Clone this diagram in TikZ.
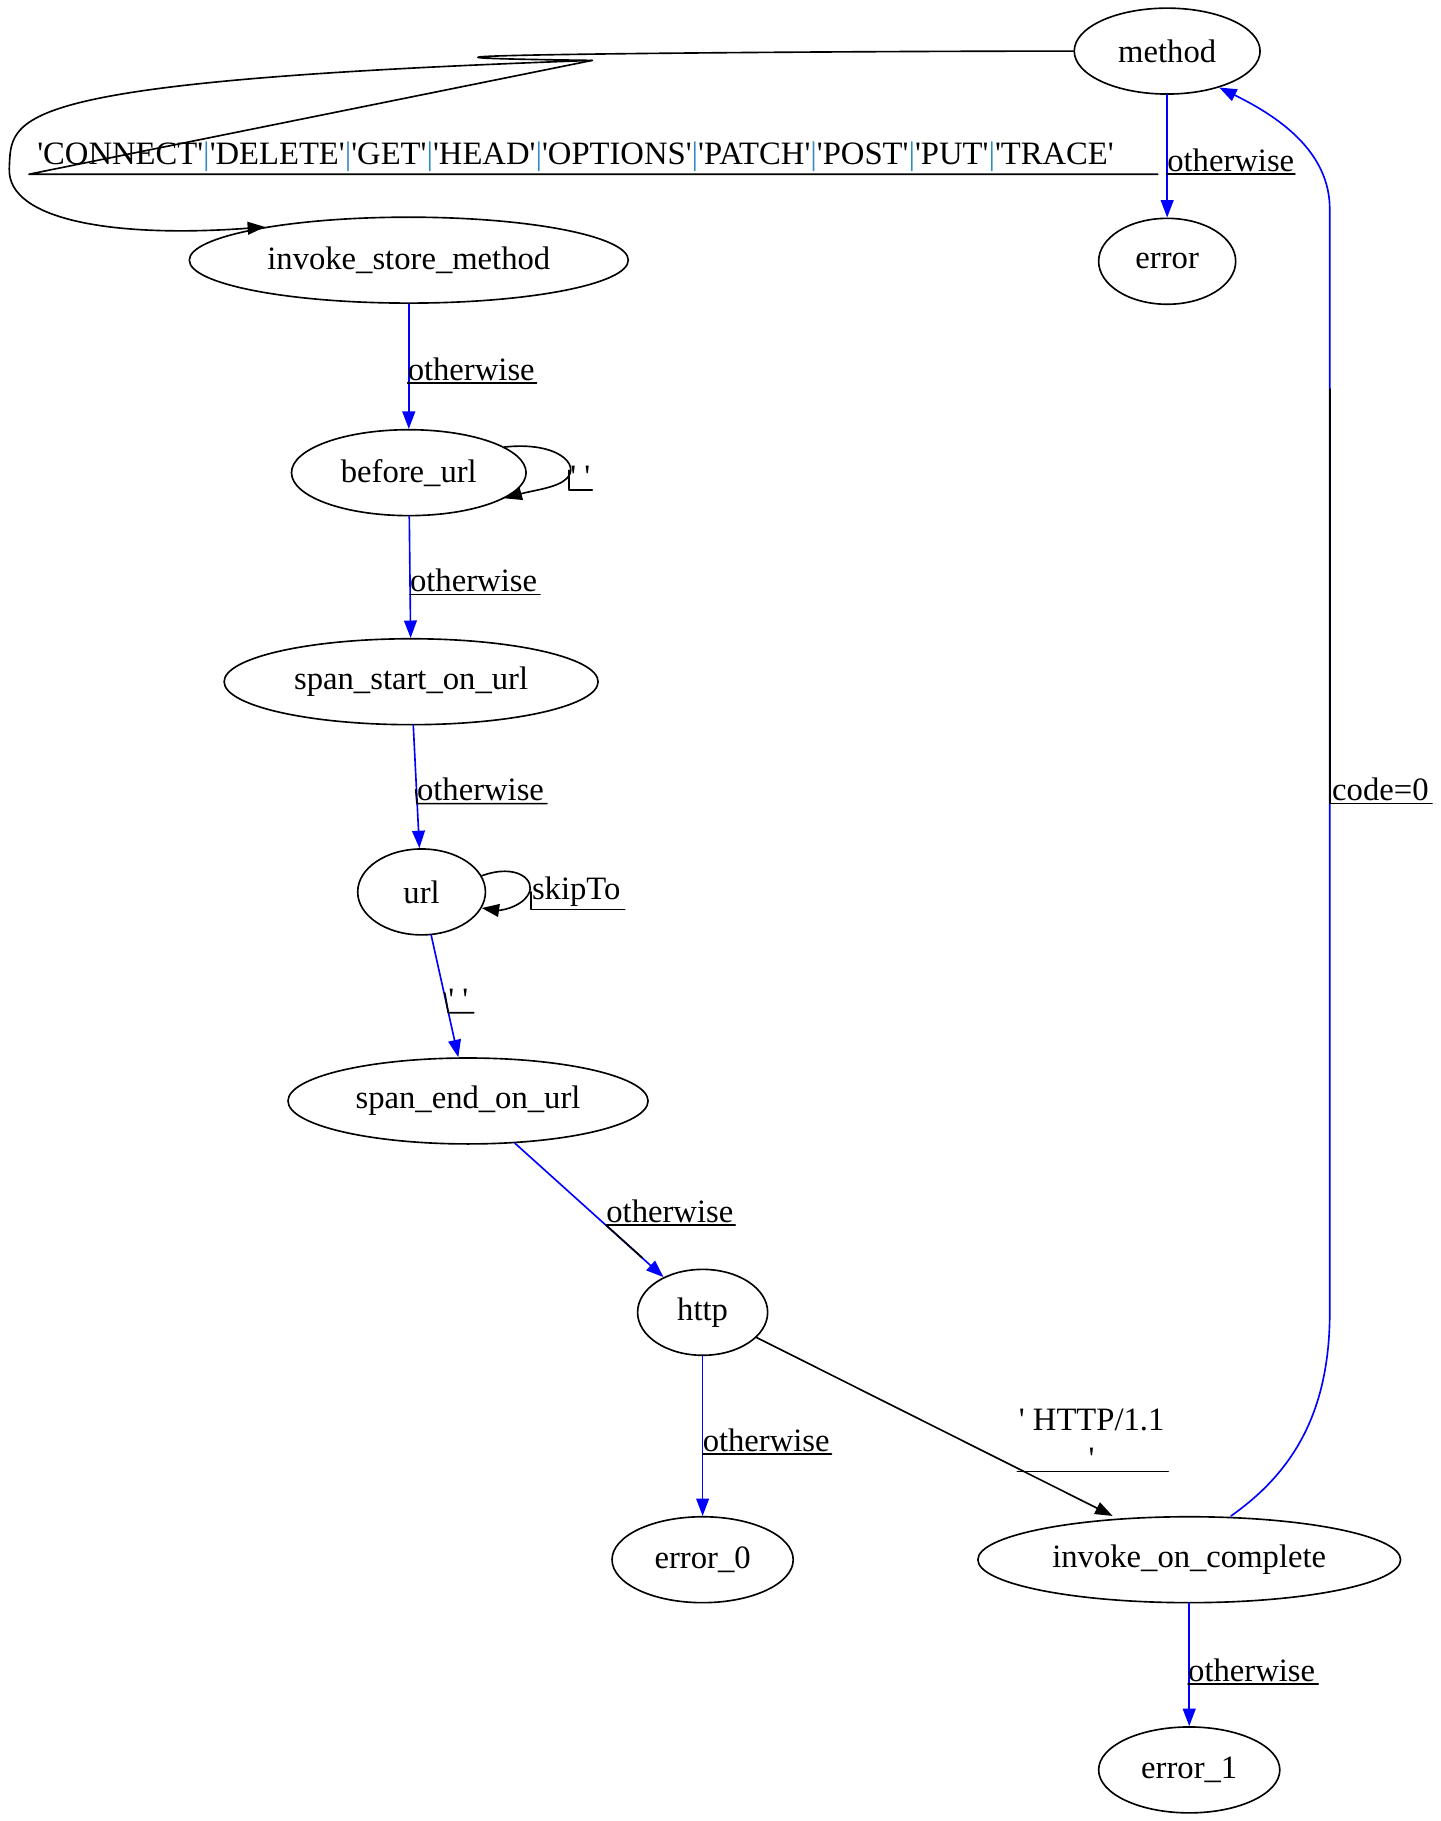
\documentclass[tikz,border=0pt]{standalone}
\usepackage{fontspec}
\setmainfont{Liberation Serif}
\usetikzlibrary{shapes.geometric,arrows.meta}
\definecolor{sepcol}{rgb}{0.2,0.55,0.75}
\newcommand{\qq}{\textquotesingle}
\newcommand{\sep}{\textcolor{sepcol}{|}}

\begin{document}
\begin{tikzpicture}[x=0.02cm,y=-0.02cm,line cap=round,line join=round,>={Triangle[length=0.3cm,width=0.22cm]},
  state/.style={draw,ellipse,line width=0.8pt,inner sep=0pt,minimum height=1.48cm,font=\fontsize{16}{19}\selectfont},
  wd/.style={minimum width=#1*0.02cm},
  lbl/.style={font=\fontsize{16}{19}\selectfont,inner sep=1pt},
  tr/.style={->,blue,line width=0.8pt},
  trb/.style={->,black,line width=0.8pt},
  ul/.style={black,line width=0.8pt}]
\useasboundingbox (0,0) rectangle (1240,1568);

\node[state,wd=160] (method) at (1005,44) {method};
\node[state,wd=118] (error) at (1005,225) {error};
\node[state,wd=378] (invokestore) at (352,224) {invoke\_store\_method};
\node[state,wd=202] (beforeurl) at (352,407) {before\_url};
\node[state,wd=322] (spanstart) at (354,587) {span\_start\_on\_url};
\node[state,wd=110] (url) at (363,768) {url};
\node[state,wd=310] (spanend) at (403,948) {span\_end\_on\_url};
\node[state,wd=112] (http) at (605,1130) {http};
\node[state,wd=156] (errorzero) at (605,1343) {error\_0};
\node[state,wd=364] (invokecomplete) at (1024,1343) {invoke\_on\_complete};
\node[state,wd=156] (errorone) at (1024,1524) {error\_1};

% method transitions
\coordinate (mlab) at (510,52);
\draw[trb] (method.west) .. controls (700,44) and (200,48) .. (mlab) .. controls (0,70) and (10,100) .. (8,145) .. controls (6,190) and (100,205) .. (invokestore.167);
\node[lbl,anchor=south west] (mtext) at (30,150) {\qq CONNECT\qq\sep\qq DELETE\qq\sep\qq GET\qq\sep\qq HEAD\qq\sep\qq OPTIONS\qq\sep\qq PATCH\qq\sep\qq POST\qq\sep\qq PUT\qq\sep\qq TRACE\qq};
\draw[ul] (mlab) -- (25,150) -- (997,150);
\draw[tr] (method) -- (error);
\node[lbl,anchor=south west] (otherm) at (1003,150) {otherwise};
\draw[ul] (1005,150) -- (1115,150);

% chain
\draw[tr] (invokestore) -- (beforeurl);
\node[lbl,anchor=south west] at (349,330) {otherwise};
\draw[ul] (351,330) -- (462,330);

\draw[trb] (beforeurl.15) .. controls (480,380) and (500,400) .. (488,412) .. controls (480,420) and (460,422) .. (beforeurl.-15);
\node[lbl,anchor=south west] at (489,422) {\qq\ \qq};
\draw[ul] (490,405) -- (490,422) -- (510,422);

\draw[tr] (beforeurl) -- (spanstart);
\node[lbl,anchor=south west] at (351,512) {otherwise};
\draw[ul] (353,512) -- (465,512);

\draw[tr] (spanstart) -- (url);
\node[lbl,anchor=south west] at (357,692) {otherwise};
\draw[ul] (358,680) -- (359,692) -- (471,692);

\draw[trb] (url.15) .. controls (445,743) and (462,758) .. (455,770) .. controls (448,782) and (430,784) .. (url.-15);
\node[lbl,anchor=south west] at (456,783) {skipTo};
\draw[ul] (457,768) -- (457,783) -- (538,783);

\draw[tr] (url) -- (spanend);
\node[lbl,anchor=south west] at (384,872) {\qq\ \qq};
\draw[ul] (383,855) -- (386,872) -- (408,872);

\draw[tr] (spanend) -- (http);
\node[lbl,anchor=south west] at (520,1055) {otherwise};
\draw[ul] (522,1055) -- (633,1055);
\draw[ul] (522,1055) -- (553,1083);

\draw[tr] (http) -- (errorzero);
\node[lbl,anchor=south west] at (603,1252) {otherwise};
\draw[ul] (605,1252) -- (716,1252);

\draw[trb] (http.-25) -- ([xshift=-66*0.02cm]invokecomplete.north);
\node[lbl,align=center,anchor=south] at (940,1267) {\qq\ HTTP/1.1\\\qq};
\draw[ul] (876,1267) -- (1006,1267);

\draw[tr] (invokecomplete) -- (errorone);
\node[lbl,anchor=south west] at (1021,1450) {otherwise};
\draw[ul] (1023,1450) -- (1135,1450);

% back edge
\draw[tr] ([xshift=36*0.02cm]invokecomplete.north) .. controls (1110,1270) and (1145,1220) .. (1145,1130) -- (1145,180) .. controls (1145,130) and (1100,100) .. (method.-35);
\node[lbl,anchor=south west] at (1145,692) {code=0};
\draw[ul] (1145,335) -- (1145,692) -- (1233,692);
\end{tikzpicture}
\end{document}
